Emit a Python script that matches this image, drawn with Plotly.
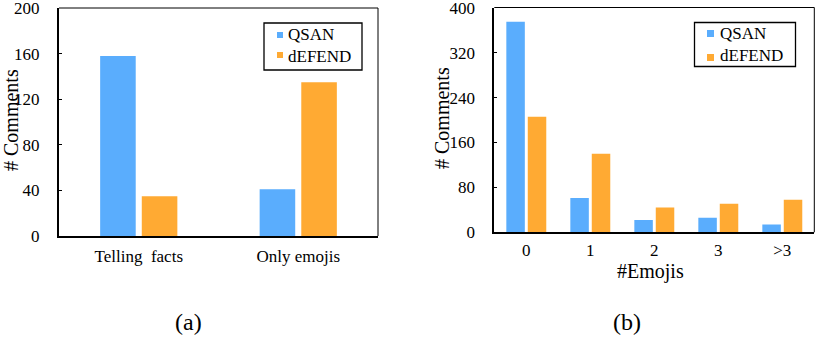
import plotly.graph_objects as go

# ---- data ----
series_names = ["QSAN", "dEFEND"]

cats_a = ["Telling\u00a0\u00a0facts", "Only emojis"]
qsan_a = [158, 41]
defend_a = [35, 135]

cats_b = ["0", "1", "2", "3", ">3"]
qsan_b = [375, 61, 22, 26, 14]
defend_b = [206, 140, 44, 51, 58]

yticks_a = [0, 40, 80, 120, 160, 200]
yticks_b = [0, 80, 160, 240, 320, 400]

BLUE = "#5aadfd"
ORANGE = "#ffaa33"
COLORS = [BLUE, ORANGE]
FONT = "Liberation Serif"
W, H = 817, 339

fig = go.Figure()

# left panel
fig.add_trace(go.Bar(x=cats_a, y=qsan_a, name=series_names[0], marker=dict(color=BLUE, line=dict(width=0)),
                     width=0.223, offset=-0.242, xaxis="x", yaxis="y", showlegend=False))
fig.add_trace(go.Bar(x=cats_a, y=defend_a, name=series_names[1], marker=dict(color=ORANGE, line=dict(width=0)),
                     width=0.223, offset=0.019, xaxis="x", yaxis="y", showlegend=False))
# right panel
fig.add_trace(go.Bar(x=cats_b, y=qsan_b, name=series_names[0], marker=dict(color=BLUE, line=dict(width=0)),
                     width=0.289, offset=-0.312, xaxis="x2", yaxis="y2", showlegend=False))
fig.add_trace(go.Bar(x=cats_b, y=defend_b, name=series_names[1], marker=dict(color=ORANGE, line=dict(width=0)),
                     width=0.289, offset=0.023, xaxis="x2", yaxis="y2", showlegend=False))

def px_x(p):
    return p / W

def px_y(p):
    return (H - p) / H

ax_common = dict(showgrid=False, zeroline=False, showline=True, linecolor="black", linewidth=2,
                 automargin=False,
                 tickfont=dict(family=FONT, size=17, color="black"), ticklabeloverflow="allow")

fig.update_layout(
    width=W, height=H, margin=dict(l=0, r=0, t=0, b=0, autoexpand=False),
    paper_bgcolor="white", plot_bgcolor="white",
    barmode="overlay", showlegend=False,
    font=dict(family=FONT, size=17, color="black"),
    xaxis=dict(domain=[px_x(59), px_x(378)], anchor="y", range=[-0.5, 1.5], type="category",
               ticks="", ticklabelstandoff=4, **ax_common),
    yaxis=dict(domain=[px_y(236), px_y(8)], anchor="x", range=[0, 200.2], tickvals=yticks_a,
               ticks="inside", ticklen=3, tickcolor="black", ticklabelstandoff=14, **ax_common),
    xaxis2=dict(domain=[px_x(494.3), px_x(814.3)], anchor="y2", range=[-0.5, 4.5], type="category",
                ticks="", ticklabelstandoff=1, **ax_common),
    yaxis2=dict(domain=[px_y(232.3), px_y(7.5)], anchor="x2", range=[0, 400.4], tickvals=yticks_b,
                ticks="inside", ticklen=3, tickcolor="black", ticklabelstandoff=14, **ax_common),
)

# thin top/right frame lines
for xr, yr in (("x domain", "y domain"), ("x2 domain", "y2 domain")):
    fig.add_shape(type="line", xref=xr, yref=yr, x0=0, x1=1, y0=1, y1=1, line=dict(color="black", width=1))
    fig.add_shape(type="line", xref=xr, yref=yr, x0=1, x1=1, y0=0, y1=1, line=dict(color="black", width=1))

# legends (box, swatches, labels) in pixel layout
legends = [
    dict(box=(264, 23, 362, 70), sw_x=(277, 283), sw_y=[(32, 38), (52, 58)], tx=286, ty=[34.5, 56]),
    dict(box=(694.5, 22.5, 795.5, 66.5), sw_x=(707, 714), sw_y=[(30, 37), (54, 61)], tx=718, ty=[33, 55.5]),
]
for lg in legends:
    x0, y0, x1, y1 = lg["box"]
    fig.add_shape(type="rect", xref="paper", yref="paper", x0=px_x(x0), x1=px_x(x1),
                  y0=px_y(y1), y1=px_y(y0), line=dict(color="black", width=1.3), fillcolor="white")
    for i, name in enumerate(series_names):
        sy0, sy1 = lg["sw_y"][i]
        fig.add_shape(type="rect", xref="paper", yref="paper", x0=px_x(lg["sw_x"][0]), x1=px_x(lg["sw_x"][1]),
                      y0=px_y(sy1), y1=px_y(sy0), line=dict(width=0), fillcolor=COLORS[i])
        fig.add_annotation(text=name, x=px_x(lg["tx"]), y=px_y(lg["ty"][i]), xref="paper", yref="paper",
                           xanchor="left", yanchor="middle", showarrow=False,
                           font=dict(family=FONT, size=17, color="black"))

ann = [
    dict(text="# Comments", x=px_x(11), y=px_y(120), textangle=-90, size=20),
    dict(text="# Comments", x=px_x(442), y=px_y(118), textangle=-90, size=20),
    dict(text="#Emojis", x=px_x(650), y=px_y(271), size=20),
    dict(text="(a)", x=px_x(188), y=px_y(322), size=24),
    dict(text="(b)", x=px_x(627), y=px_y(322), size=24),
]
for a in ann:
    fig.add_annotation(text=a["text"], x=a["x"], y=a["y"], xref="paper", yref="paper",
                       xanchor="center", yanchor="middle", showarrow=False,
                       textangle=a.get("textangle", 0),
                       font=dict(family=FONT, size=a.get("size", 17), color="black"))

fig.write_html("out.html", config={"displayModeBar": False},
               post_script="document.body.style.margin='0';document.body.style.overflow='hidden';")
